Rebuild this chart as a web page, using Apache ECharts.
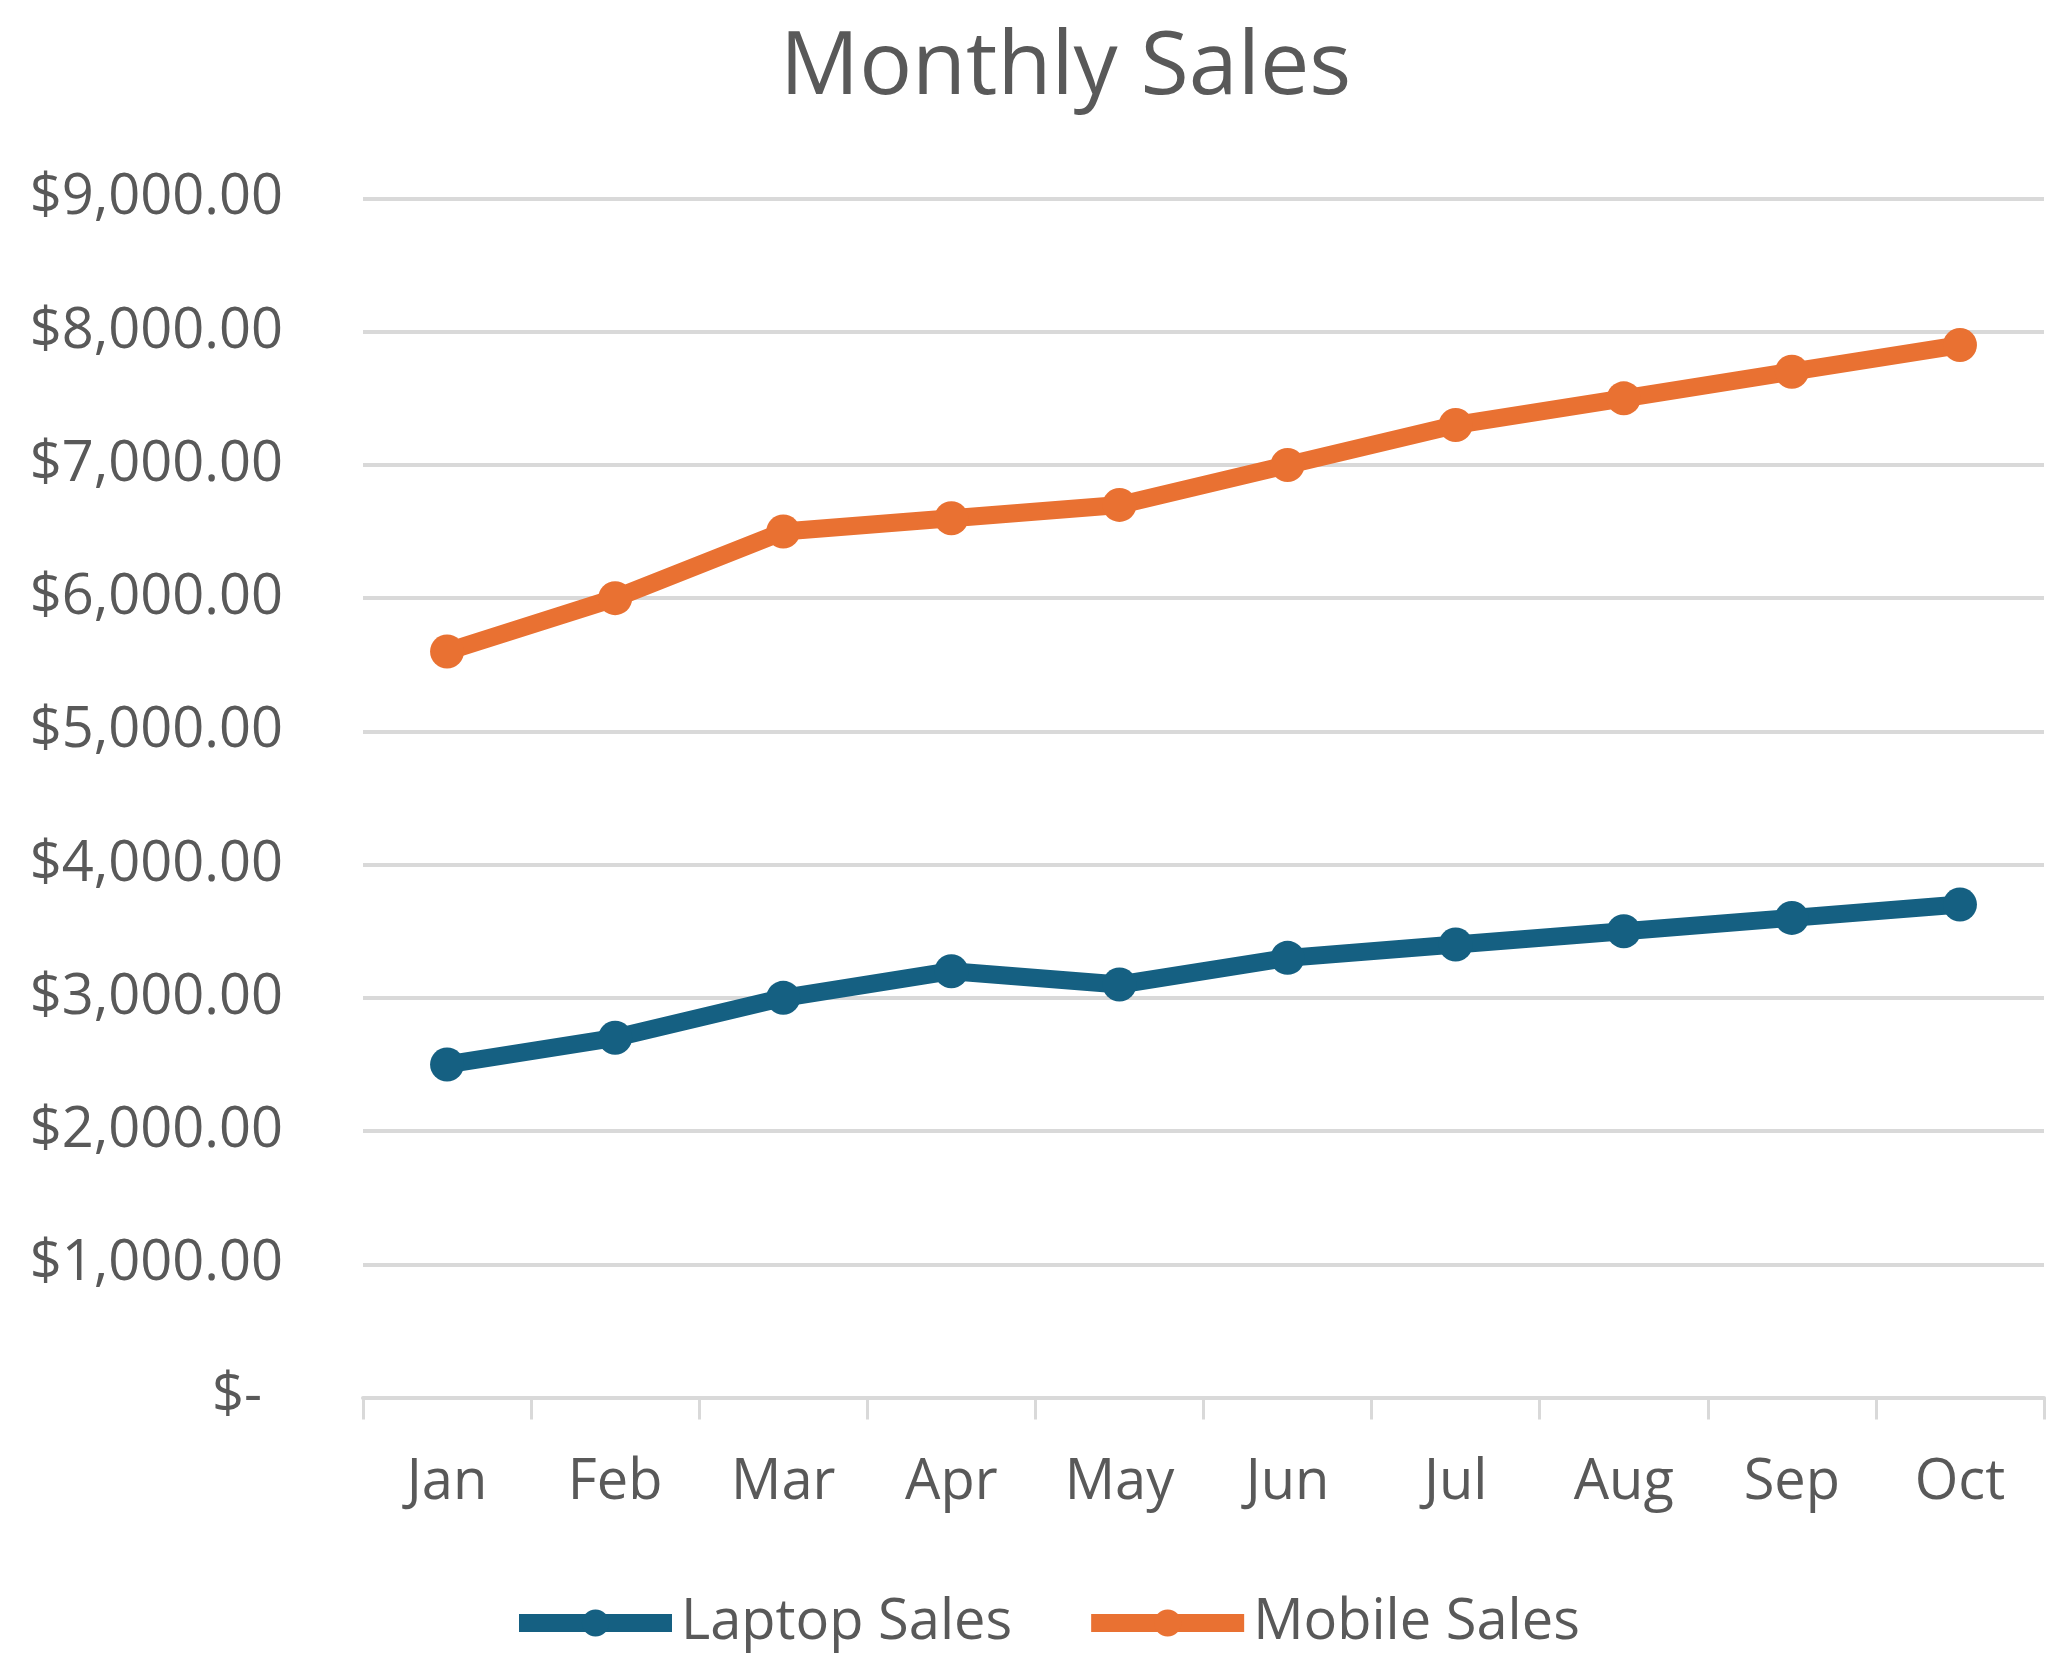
<!DOCTYPE html>
<html>
<head>
<meta charset="utf-8">
<script src="https://cdn.jsdelivr.net/npm/echarts@6/dist/echarts.min.js"></script>
<style>
html,body{margin:0;padding:0;background:#fff;}
#chart{width:2048px;height:1678px;}
</style>
</head>
<body>
<div id="chart"></div>
<script>
var months = ['Jan','Feb','Mar','Apr','May','Jun','Jul','Aug','Sep','Oct'];
var laptopSales = [2500,2700,3000,3200,3100,3300,3400,3500,3600,3700];
var mobileSales = [5600,6000,6500,6600,6700,7000,7300,7500,7700,7900];

var chart = echarts.init(document.getElementById('chart'));
var FONT = '"Open Sans", sans-serif';
function fmt(v){
  if (v === 0) return '{z|$-}';
  return '$' + v.toLocaleString('en-US',{minimumFractionDigits:2,maximumFractionDigits:2});
}
chart.setOption({
  backgroundColor:'#fff',
  animation:false,
  title:{
    text:'Monthly Sales',
    left:775,
    top:20,
    textStyle:{fontFamily:FONT,fontSize:88,fontWeight:'normal',color:'#595959'}
  },
  legend:{
    bottom:22,
    left:505,
    itemWidth:153,
    itemHeight:34,
    itemGap:70,
    lineStyle:{width:18},
    textStyle:{fontFamily:FONT,fontSize:56,color:'#595959',padding:[0,0,0,4]},
    data:['Laptop Sales','Mobile Sales']
  },
  grid:{left:363,right:4,top:198.5,bottom:280.5},
  xAxis:{
    type:'category',
    data:months,
    boundaryGap:true,
    axisLine:{lineStyle:{color:'#D9D9D9',width:4}},
    axisTick:{show:true,length:22,lineStyle:{color:'#D9D9D9',width:3}},
    axisLabel:{fontFamily:FONT,fontSize:56,color:'#595959',margin:58}
  },
  yAxis:{
    type:'value',
    min:0,max:9000,interval:1000,
    axisLine:{show:false},
    axisTick:{show:false},
    splitLine:{lineStyle:{color:'#D9D9D9',width:4}},
    axisLabel:{fontFamily:FONT,fontSize:56,color:'#595959',margin:80,formatter:fmt,
      rich:{z:{fontFamily:FONT,fontSize:56,color:'#595959',padding:[0,21,0,0]}}}
  },
  series:[
    {name:'Laptop Sales',type:'line',data:laptopSales,symbol:'circle',symbolSize:34,
     itemStyle:{color:'#156082'},lineStyle:{color:'#156082',width:18}},
    {name:'Mobile Sales',type:'line',data:mobileSales,symbol:'circle',symbolSize:34,
     itemStyle:{color:'#E97132'},lineStyle:{color:'#E97132',width:18}}
  ]
});
</script>
</body>
</html>
